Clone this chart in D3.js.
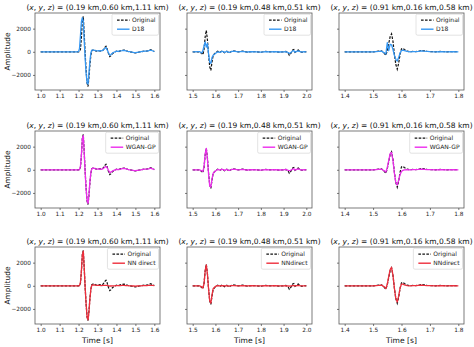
<!DOCTYPE html>
<html><head><meta charset="utf-8">
<script src="https://cdn.jsdelivr.net/npm/d3@7"></script>
<style>
html,body{margin:0;padding:0;background:#fff;}
svg{display:block;font-family:"DejaVu Sans",sans-serif;}
</style></head>
<body><svg id="chart" width="474" height="347"></svg>
<script>
// ---------- data ----------
const columnTitles = ["(0.19 km,0.60 km,1.11 km)", "(0.19 km,0.48 km,0.51 km)", "(0.91 km,0.16 km,0.58 km)"];
const rowModels = ["D18", "WGAN-GP", "NN direct"];
const legendLabels = [["D18","D18","D18"],["WGAN-GP","WGAN-GP","WGAN-GP"],["NN direct","NNdirect","NNdirect"]];
const modelColors = ["#3597f2", "#ec2cec", "#ee2e3c"];

const xTicks1 = [1.0, 1.1, 1.2, 1.3, 1.4, 1.5, 1.6];
const xTicks2 = [1.5, 1.6, 1.7, 1.8, 1.9, 2.0];
const xTicks3 = [1.4, 1.5, 1.6, 1.7, 1.8];
const yTicks = [-2000, 0, 2000];

// column 1 time samples and traces
const time1 = [1.00,1.10,1.19,1.200,1.205,1.210,1.215,1.220,1.225,1.230,1.235,1.240,1.245,1.250,1.255,1.260,1.265,1.270,1.280,1.290,1.300,1.310,1.320,1.330,1.340,1.345,1.350,1.360,1.365,1.370,1.380,1.390,1.400,1.410,1.420,1.430,1.440,1.450,1.460,1.470,1.480,1.490,1.500,1.510,1.520,1.530,1.540,1.550,1.560,1.570,1.580,1.590,1.600];
const original1 = [0,0,0,0,10,200,1200,2700,3050,1500,-200,-1600,-2700,-3000,-2200,-1100,-300,100,180,80,60,100,50,150,400,480,300,-250,-420,-350,-150,-50,50,0,80,120,150,100,40,0,-30,-80,-100,-60,-20,0,40,80,60,100,180,100,20];
const d18_1 = [0,0,0,20,300,1400,2600,2950,2600,900,-600,-1900,-2700,-2800,-1800,-800,-100,150,150,100,80,100,80,150,300,380,200,-150,-300,-250,-100,-20,50,30,80,100,130,80,40,10,-20,-60,-80,-50,-20,10,40,60,60,90,150,90,20];
const wgan1 = [0,0,0,0,20,300,1300,2700,2950,1400,-300,-1700,-2700,-2900,-2100,-1000,-250,100,150,80,50,80,40,100,250,300,200,-100,-250,-200,-100,-30,40,20,60,100,120,80,30,0,-20,-60,-80,-50,-20,0,30,60,50,80,140,80,20];
const nn1 = [0,0,0,0,20,300,1300,2700,3000,1500,-200,-1600,-2700,-2950,-2200,-1100,-300,50,80,50,30,30,20,30,40,40,30,0,-20,-20,-10,0,10,10,20,30,30,20,10,0,-10,-20,-30,-20,-10,0,10,20,20,30,40,30,10];

// column 2
const time2 = [1.500,1.530,1.540,1.545,1.550,1.555,1.560,1.565,1.570,1.575,1.580,1.585,1.590,1.600,1.610,1.620,1.630,1.640,1.650,1.660,1.670,1.680,1.700,1.720,1.740,1.760,1.780,1.800,1.820,1.840,1.860,1.880,1.900,1.910,1.920,1.925,1.930,1.940,1.945,1.950,1.960,1.965,1.970,1.980,1.990,2.000];
const original2 = [0,0,-150,-250,200,1300,1850,1000,-300,-1300,-1600,-900,-300,-100,50,-50,80,-80,50,-100,30,80,0,50,-30,20,0,-40,30,0,20,-30,0,40,-100,-300,-200,150,200,-50,100,150,50,-50,20,0];
const d18_2 = [0,20,-100,100,500,850,400,700,-200,-900,-1000,-500,-300,-150,0,-50,50,-50,30,-60,20,50,0,30,-20,10,0,-30,20,0,10,-20,0,20,-60,-150,-100,80,100,-30,50,80,30,-30,10,0];
const wgan2 = [0,0,-100,-150,300,1400,1850,900,-400,-1400,-1500,-800,-300,-100,30,-30,50,-50,30,-60,20,50,0,30,-20,10,0,-30,20,0,10,-20,0,30,-60,-80,-50,50,100,-30,60,80,30,-30,10,0];
const nn2 = [0,0,-100,-200,200,1300,1800,1000,-300,-1300,-1500,-800,-250,-50,20,0,20,-10,10,-20,10,20,0,10,0,10,0,-10,10,0,10,-10,0,10,-20,-30,-20,20,30,0,20,30,10,-10,0,0];

// column 3
const time3 = [1.400,1.450,1.500,1.520,1.530,1.540,1.545,1.550,1.555,1.560,1.565,1.570,1.575,1.580,1.585,1.590,1.595,1.600,1.605,1.610,1.620,1.630,1.640,1.650,1.660,1.670,1.680,1.690,1.700,1.720,1.740,1.760,1.780,1.800];
const original3 = [0,0,0,50,80,-150,-300,100,700,1300,1550,900,-200,-1100,-1500,-1000,-200,250,300,200,50,0,30,20,50,120,80,40,20,0,30,0,20,0];
const d18_3 = [0,0,0,30,60,-100,-200,800,100,650,600,200,-300,-650,-800,-500,-100,100,150,100,30,0,20,10,30,80,50,30,10,0,20,0,10,0];
const wgan3 = [0,0,0,30,50,-100,-200,200,800,1400,1500,800,-300,-1100,-1300,-900,-400,-150,-50,0,20,0,20,10,30,60,40,20,10,0,20,0,10,0];
const nn3 = [0,0,0,30,60,-100,-250,150,800,1400,1600,900,-200,-1100,-1400,-900,-200,150,150,80,20,0,20,10,30,50,30,20,10,0,10,0,10,0];

// ---------- assembly ----------
const times = [time1, time2, time3];
const originals = [original1, original2, original3];
const predictions = [[d18_1, d18_2, d18_3], [wgan1, wgan2, wgan3], [nn1, nn2, nn3]];
const xTicks = [xTicks1, xTicks2, xTicks3];

const svg = d3.select("#chart");
const colLeft = [35, 187, 339];
const plotW = 125;
const rowTop = [13, 131, 247];
const plotH = 77;
const tickFont = 5.8;

function fmtY(v){ return v < 0 ? "\u2212" + Math.abs(v) : String(v); }

for (let r = 0; r < 3; r++) {
  let all = [];
  for (let c = 0; c < 3; c++) { all = all.concat(originals[c], predictions[r][c]); }
  const [mn, mx] = d3.extent(all);
  const pad = (mx - mn) * 0.05;
  const y = d3.scaleLinear().domain([mn - pad, mx + pad]).range([rowTop[r] + plotH, rowTop[r]]);

  for (let c = 0; c < 3; c++) {
    const t = times[c];
    const t0 = t[0], t1 = t[t.length - 1];
    const xp = (t1 - t0) * 0.05;
    const x = d3.scaleLinear().domain([t0 - xp, t1 + xp]).range([colLeft[c], colLeft[c] + plotW]);
    const g = svg.append("g");

    g.append("rect").attr("x", colLeft[c]).attr("y", rowTop[r]).attr("width", plotW).attr("height", plotH)
      .attr("fill", "#fff").attr("stroke", "#5a5a5a").attr("stroke-width", 0.8);

    const xa = g.append("g").attr("transform", `translate(0,${rowTop[r] + plotH})`)
      .call(d3.axisBottom(x).tickValues(xTicks[c]).tickFormat(d3.format(".1f")).tickSize(2).tickPadding(1.5));
    const ya = g.append("g").attr("transform", `translate(${colLeft[c]},0)`)
      .call(d3.axisLeft(y).tickValues(yTicks).tickFormat(c === 0 ? fmtY : () => "").tickSize(2).tickPadding(2));
    [xa, ya].forEach(a => {
      a.select(".domain").remove();
      a.selectAll(".tick line").attr("stroke", "#444").attr("stroke-width", 0.7);
      a.selectAll(".tick text").attr("font-size", tickFont).attr("fill", "#222").attr("font-family", "DejaVu Sans");
    });

    const line = d3.line().x((d, i) => x(t[i])).y(d => y(d));
    // original dashed
    g.append("path").datum(originals[c]).attr("d", line)
      .attr("fill", "none").attr("stroke", "#111").attr("stroke-width", 1.2).attr("stroke-dasharray", "2.6,1.4");
    // model trace
    g.append("path").datum(predictions[r][c]).attr("d", line)
      .attr("fill", "none").attr("stroke", modelColors[r]).attr("stroke-width", 1.3).attr("stroke-linejoin", "round");

    const cx = colLeft[c] + plotW / 2;
    const title = g.append("text").attr("x", cx).attr("y", rowTop[r] - 3.5).attr("text-anchor", "middle")
      .attr("font-size", 7.5).attr("fill", "#111");
    title.append("tspan").text("(");
    title.append("tspan").attr("font-style", "italic").text("x");
    title.append("tspan").text(", ");
    title.append("tspan").attr("font-style", "italic").text("y");
    title.append("tspan").text(", ");
    title.append("tspan").attr("font-style", "italic").text("z");
    title.append("tspan").text(") = " + columnTitles[c]);

    // legend
    const labels = ["Original", legendLabels[r][c]];
    const lf = 6;
    const tmp = g.append("text").attr("font-size", lf).text(labels[0]);
    let tw = tmp.node().getComputedTextLength();
    tmp.text(labels[1]);
    tw = Math.max(tw, tmp.node().getComputedTextLength());
    tmp.remove();
    const lw = 19 + tw + 4, lh = 21;
    const lx = colLeft[c] + plotW - 1.5 - lw, ly = rowTop[r] + 1.2;
    g.append("rect").attr("x", lx).attr("y", ly).attr("width", lw).attr("height", lh).attr("rx", 1.5)
      .attr("fill", "#fff").attr("fill-opacity", 0.85).attr("stroke", "#d0d0d0").attr("stroke-width", 0.6);
    const rows = [{stroke: "#111", dash: "2.6,1.4", w: 1.2}, {stroke: modelColors[r], dash: null, w: 1.4}];
    rows.forEach((s, i) => {
      const yy = ly + 6 + i * 9;
      const ln = g.append("line").attr("x1", lx + 5).attr("x2", lx + 17.5).attr("y1", yy).attr("y2", yy)
        .attr("stroke", s.stroke).attr("stroke-width", s.w);
      if (s.dash) ln.attr("stroke-dasharray", s.dash);
      g.append("text").attr("x", lx + 20).attr("y", yy + 2.1).attr("font-size", lf).attr("fill", "#222").text(labels[i]);
    });

    if (c === 0) {
      svg.append("text").attr("transform", `translate(10,${rowTop[r] + plotH / 2}) rotate(-90)`)
        .attr("text-anchor", "middle").attr("font-size", 7.4).attr("fill", "#111").text("Amplitude");
    }
    if (r === 2) {
      svg.append("text").attr("x", cx).attr("y", 343).attr("text-anchor", "middle")
        .attr("font-size", 7.6).attr("fill", "#111").text("Time [s]");
    }
  }
}
</script></body></html>
